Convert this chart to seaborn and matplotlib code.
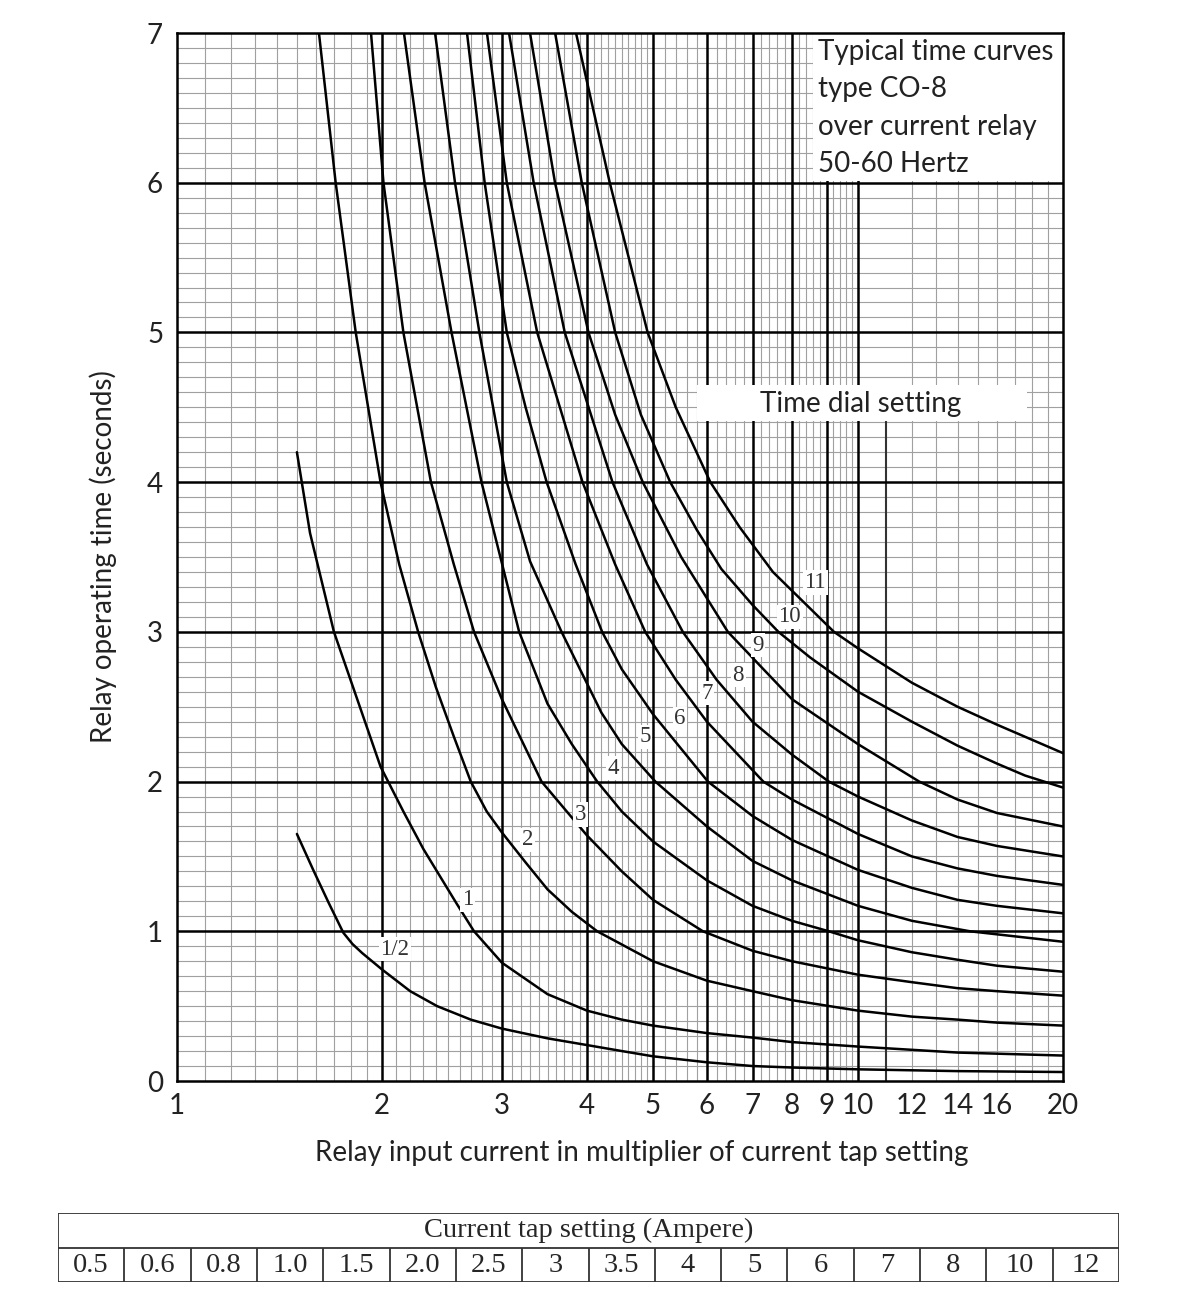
import numpy as np
import pandas as pd
import matplotlib
matplotlib.use("Agg")
import matplotlib.pyplot as plt
import seaborn as sns
from matplotlib.patches import Rectangle

sns.set_style("white")
plt.rcParams['font.family'] = ['Lato', 'DejaVu Sans']

# time dial curves: multiplier of tap setting -> seconds
td_half_x = [1.5, 1.585, 1.67, 1.755, 1.81, 1.87, 2.0, 2.2, 2.41, 2.7, 3.0, 3.5, 4.0, 4.5, 5.0,
             6.0, 7.0, 8.0, 10.0, 14.0, 20.0]
td_half_y = [1.65, 1.41, 1.19, 0.99, 0.915, 0.855, 0.745, 0.60, 0.50, 0.41, 0.35, 0.285, 0.24,
             0.20, 0.165, 0.125, 0.10, 0.09, 0.078, 0.066, 0.06]
td_1_x = [1.5, 1.568, 1.70, 1.99, 2.15, 2.3, 2.57, 2.73, 3.0, 3.5, 4.0, 4.5, 5.0, 6.0, 7.0,
          8.0, 10.0, 14.0, 20.0]
td_1_y = [4.2, 3.66, 3.0, 2.1, 1.80, 1.55, 1.19, 1.0, 0.79, 0.58, 0.47, 0.41, 0.37, 0.32, 0.29,
          0.26, 0.23, 0.19, 0.17]
td_2_x = [1.616, 1.71, 1.83, 1.99, 2.12, 2.26, 2.40, 2.55, 2.70, 2.85, 3.0, 3.25, 3.5, 3.8,
          4.14, 5.0, 6.0, 7.0, 8.0, 10.0, 12.0, 14.0, 16.0, 20.0]
td_2_y = [7.0, 6.0, 5.0, 4.0, 3.45, 3.0, 2.63, 2.30, 2.0, 1.80, 1.66, 1.46, 1.28, 1.13,
          1.0, 0.80, 0.67, 0.60, 0.54, 0.47, 0.43, 0.41, 0.39, 0.37]
td_3_x = [1.927, 2.01, 2.15, 2.36, 2.55, 2.73, 3.0, 3.43, 4.0, 4.5, 5.0, 5.92, 7.0, 8.0,
          10.0, 12.0, 14.0, 16.0, 20.0]
td_3_y = [7.0, 6.0, 5.0, 4.0, 3.45, 3.0, 2.55, 2.0, 1.64, 1.40, 1.21, 1.0, 0.87, 0.80,
          0.71, 0.66, 0.62, 0.60, 0.57]
td_4_x = [2.154, 2.31, 2.53, 2.80, 3.18, 3.5, 3.8, 4.14, 4.5, 5.0, 6.0, 7.0, 8.0, 9.06,
          10.0, 12.0, 14.0, 16.0, 20.0]
td_4_y = [7.0, 6.0, 5.0, 4.0, 3.0, 2.52, 2.25, 2.0, 1.80, 1.60, 1.34, 1.17, 1.07, 1.0,
          0.94, 0.86, 0.81, 0.77, 0.73]
td_5_x = [2.393, 2.56, 2.78, 3.05, 3.3, 3.67, 4.2, 4.5, 5.04, 6.0, 7.0, 8.0, 10.0, 12.0,
          14.6, 20.0]
td_5_y = [7.0, 6.0, 5.0, 4.0, 3.47, 3.0, 2.46, 2.25, 2.0, 1.70, 1.47, 1.34, 1.17, 1.07,
          1.0, 0.93]
td_6_x = [2.666, 2.83, 3.05, 3.25, 3.49, 3.85, 4.21, 4.5, 5.0, 6.02, 7.0, 8.0, 10.0, 12.0,
          14.0, 16.0, 20.0]
td_6_y = [7.0, 6.0, 5.0, 4.5, 4.0, 3.45, 3.0, 2.75, 2.45, 2.0, 1.77, 1.61, 1.41, 1.29,
          1.21, 1.17, 1.12]
td_7_x = [2.852, 3.05, 3.38, 3.94, 4.4, 4.87, 5.4, 6.0, 7.26, 8.0, 10.0, 12.0, 14.0, 16.0, 20.0]
td_7_y = [7.0, 6.0, 5.0, 4.0, 3.45, 3.0, 2.68, 2.4, 2.0, 1.88, 1.65, 1.50, 1.42, 1.37, 1.31]
td_8_x = [3.073, 3.34, 3.71, 4.36, 4.9, 5.53, 6.2, 7.0, 8.0, 9.06, 10.0, 12.0, 14.0, 16.0, 20.0]
td_8_y = [7.0, 6.0, 5.0, 4.0, 3.45, 3.0, 2.68, 2.4, 2.18, 2.0, 1.90, 1.74, 1.63, 1.57, 1.50]
td_9_x = [3.299, 3.59, 4.02, 4.4, 4.83, 5.5, 6.44, 8.0, 10.0, 12.3, 14.0, 16.0, 20.0]
td_9_y = [7.0, 6.0, 5.0, 4.45, 4.0, 3.5, 3.0, 2.55, 2.25, 2.0, 1.88, 1.79, 1.70]
td_10_x = [3.591, 3.93, 4.40, 4.8, 5.30, 5.8, 6.3, 7.0, 7.64, 8.5, 10.0, 12.0, 14.0, 16.0,
           17.6, 20.0]
td_10_y = [7.0, 6.0, 5.0, 4.45, 4.0, 3.68, 3.42, 3.18, 3.0, 2.83, 2.6, 2.4, 2.24, 2.12,
           2.04, 1.96]
td_11_x = [3.854, 4.32, 4.91, 5.4, 6.07, 6.7, 7.5, 9.22, 10.0, 12.0, 14.0, 16.0, 20.0]
td_11_y = [7.0, 6.0, 5.0, 4.5, 4.0, 3.7, 3.4, 3.0, 2.89, 2.66, 2.50, 2.38, 2.19]

dial_names = ["1/2", "1", "2", "3", "4", "5", "6", "7", "8", "9", "10", "11"]
dial_x = [td_half_x, td_1_x, td_2_x, td_3_x, td_4_x, td_5_x, td_6_x,
          td_7_x, td_8_x, td_9_x, td_10_x, td_11_x]
dial_y = [td_half_y, td_1_y, td_2_y, td_3_y, td_4_y, td_5_y, td_6_y,
          td_7_y, td_8_y, td_9_y, td_10_y, td_11_y]

# where each dial label sits on the chart
label_x = [2.09, 2.67, 3.27, 3.91, 4.37, 4.87, 5.48, 6.0, 6.67, 7.13, 7.94, 8.65]
label_y = [0.88, 1.21, 1.61, 1.78, 2.09, 2.30, 2.42, 2.59, 2.71, 2.91, 3.10, 3.33]

x_ticks = [1, 2, 3, 4, 5, 6, 7, 8, 9, 10, 12, 14, 16, 20]
y_ticks = [0, 1, 2, 3, 4, 5, 6, 7]
tap_settings = ["0.5", "0.6", "0.8", "1.0", "1.5", "2.0", "2.5", "3", "3.5",
                "4", "5", "6", "7", "8", "10", "12"]

rows = []
for name, xs, ys in zip(dial_names, dial_x, dial_y):
    for i, (a, b) in enumerate(zip(xs, ys)):
        rows.append({"dial": name, "order": i, "mult": a, "time": b})
df = pd.DataFrame(rows)

fig = plt.figure(figsize=(11.9, 13.02), dpi=100)
ax = fig.add_axes([177 / 1190, 1 - 1081 / 1302, 886 / 1190, 1048 / 1302])
ax.set_xscale("log")
ax.set_xlim(1, 20)
ax.set_ylim(0, 7)

# log graph paper
def off_integer(vals):
    return [v for v in vals if abs(v - round(v)) > 0.01]

minor_v = off_integer(np.arange(1.1, 5.0, 0.1)) + \
    off_integer(np.arange(5.2, 10.0, 0.2)) + list(range(12, 20))
ax.vlines(minor_v, 0, 7, color="#a0a0a0", lw=0.8, zorder=1)
minor_h = off_integer(np.arange(0.1, 7.0, 0.1))
ax.hlines(minor_h, 1, 20, color="#a0a0a0", lw=0.8, zorder=1)
ax.vlines(range(2, 11), 0, 7, color="black", lw=1.8, zorder=2)
ax.vlines(11, 0, 4.45, color="#333333", lw=1.5, zorder=2)
ax.hlines(range(1, 7), 1, 20, color="black", lw=1.8, zorder=2)

# white boxes holding the notes
ax.add_patch(Rectangle((0.718, 0.859), 0.282, 0.141, transform=ax.transAxes,
                       facecolor="white", edgecolor="none", zorder=3))
ax.text(0.724, 0.994, "Typical time curves\ntype CO-8\nover current relay\n50-60 Hertz",
        transform=ax.transAxes, ha="left", va="top", fontsize=20,
        linespacing=1.53, color="#222222", zorder=4)
ax.add_patch(Rectangle((0.587, 0.630), 0.372, 0.034, transform=ax.transAxes,
                       facecolor="white", edgecolor="none", zorder=3))
ax.text(0.772, 0.646, "Time dial setting", transform=ax.transAxes,
        ha="center", va="center", fontsize=20, color="#222222", zorder=4)

sns.lineplot(data=df, x="mult", y="time", units="dial", estimator=None,
             sort=False, color="black", lw=1.8, ax=ax, zorder=5, legend=False)

for name, lx, ly in zip(dial_names, label_x, label_y):
    ax.text(lx, ly, name, ha="center", va="center", fontsize=16.5,
            family="Liberation Serif", color="#333333", zorder=6,
            bbox=dict(facecolor="white", edgecolor="none", pad=1.2))

ax.set_xticks(x_ticks)
ax.set_xticklabels([str(t) for t in x_ticks])
ax.xaxis.set_minor_locator(matplotlib.ticker.NullLocator())
ax.set_yticks(y_ticks)
ax.tick_params(axis="both", length=0, labelsize=20, labelcolor="#222222")
ax.tick_params(axis="x", pad=9)
ax.tick_params(axis="y", pad=10)
for s in ax.spines.values():
    s.set_color("black")
    s.set_linewidth(1.8)
    s.set_zorder(6)

ax.set_xlabel("Relay input current in multiplier of current tap setting",
              fontsize=20, color="#222222")
ax.xaxis.set_label_coords(0.524, -0.056)
ax.set_ylabel("Relay operating time (seconds)", fontsize=20, color="#222222")
ax.yaxis.set_label_coords(-0.068, 0.5)

# current tap setting table
tx = fig.add_axes([58 / 1190, 1 - 1282 / 1302, 1061 / 1190, 69 / 1302])
tx.set_xlim(0, 16)
tx.set_ylim(0, 2)
tx.axis("off")
tx.add_patch(Rectangle((0, 0), 16, 2, facecolor="white", edgecolor="#333333", lw=1.3))
tx.hlines(1, 0, 16, color="#333333", lw=1.3)
tx.vlines(range(1, 16), 0, 1, color="#333333", lw=1.3)
tx.text(8, 1.5, "Current tap setting (Ampere)", ha="center", va="center",
        fontsize=20.5, family="Liberation Serif")
for i, t in enumerate(tap_settings):
    tx.text(i + 0.5, 0.47, t, ha="center", va="center", fontsize=20.5,
            family="Liberation Serif")

fig.savefig("out.png", dpi=100)
